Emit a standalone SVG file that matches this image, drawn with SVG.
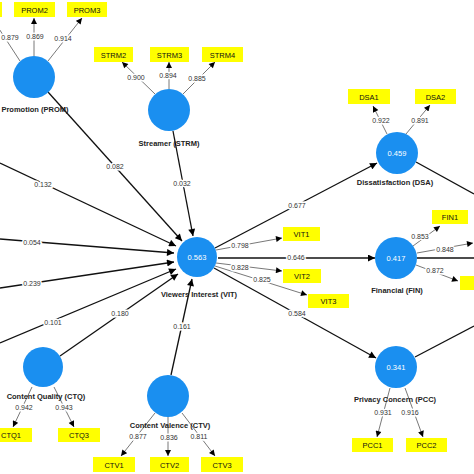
<svg xmlns="http://www.w3.org/2000/svg" width="474" height="474" viewBox="0 0 474 474">
<defs>
<style>
.lv{fill:#1a8ff0}
.ind{fill:#ffff00}
.it{font-family:"Liberation Sans",Arial,sans-serif;font-size:7.5px;fill:#111;text-anchor:middle}
.nm{font-family:"Liberation Sans",Arial,sans-serif;font-size:7.5px;font-weight:bold;fill:#222;text-anchor:middle}
.vl{font-family:"Liberation Sans",Arial,sans-serif;font-size:7.5px;fill:#fff;text-anchor:middle}
.lb{font-family:"Liberation Sans",Arial,sans-serif;font-size:7px;fill:#333;text-anchor:middle;paint-order:stroke;stroke:#fff;stroke-width:3px}
.pl{stroke:#111;stroke-width:1.3;fill:none}
.ld{stroke:#555;stroke-width:0.8;fill:none}
</style>
<marker id="ah" viewBox="0 0 10 10" refX="10" refY="5" markerWidth="8" markerHeight="7" markerUnits="userSpaceOnUse" orient="auto"><path d="M0,0 L10,5 L0,10 z" fill="#000"/></marker>
<marker id="as" viewBox="0 0 10 10" refX="10" refY="5" markerWidth="7" markerHeight="6" markerUnits="userSpaceOnUse" orient="auto"><path d="M0,0 L10,5 L0,10 z" fill="#000"/></marker>
</defs>
<rect width="474" height="474" fill="#fff"/>

<g id="connectors">
<line class="pl" x1="48" y1="92" x2="182" y2="241" marker-end="url(#ah)"/>
<line class="pl" x1="173" y1="131" x2="193" y2="236" marker-end="url(#ah)"/>
<line class="pl" x1="0" y1="163" x2="176" y2="246" marker-end="url(#ah)"/>
<line class="pl" x1="0" y1="239" x2="174" y2="253" marker-end="url(#ah)"/>
<line class="pl" x1="0" y1="288" x2="174" y2="262" marker-end="url(#ah)"/>
<line class="pl" x1="0" y1="343" x2="176" y2="269" marker-end="url(#ah)"/>
<line class="pl" x1="60" y1="356" x2="178" y2="274" marker-end="url(#ah)"/>
<line class="pl" x1="171" y1="375" x2="192" y2="279" marker-end="url(#ah)"/>
<line class="pl" x1="215" y1="248" x2="377" y2="163" marker-end="url(#ah)"/>
<line class="pl" x1="218" y1="258" x2="375" y2="258" marker-end="url(#ah)"/>
<line class="pl" x1="214" y1="268" x2="376" y2="358" marker-end="url(#ah)"/>
<line class="pl" x1="416" y1="162" x2="474" y2="194"/>
<line class="pl" x1="417" y1="258" x2="474" y2="258"/>
<line class="pl" x1="415" y1="357" x2="474" y2="326"/>
<line class="ld" x1="20" y1="61" x2="-8" y2="18" marker-end="url(#as)"/>
<line class="ld" x1="34" y1="56" x2="34" y2="18" marker-end="url(#as)"/>
<line class="ld" x1="48" y1="61" x2="82" y2="18" marker-end="url(#as)"/>
<line class="ld" x1="155" y1="94" x2="122" y2="62" marker-end="url(#as)"/>
<line class="ld" x1="169" y1="89" x2="169" y2="62" marker-end="url(#as)"/>
<line class="ld" x1="183" y1="94" x2="215" y2="62" marker-end="url(#as)"/>
<line class="ld" x1="387" y1="134" x2="373" y2="106" marker-end="url(#as)"/>
<line class="ld" x1="406" y1="134" x2="430" y2="105" marker-end="url(#as)"/>
<line class="ld" x1="216" y1="250" x2="282" y2="238" marker-end="url(#as)"/>
<line class="ld" x1="216" y1="263" x2="282" y2="271" marker-end="url(#as)"/>
<line class="ld" x1="215" y1="266" x2="307" y2="295" marker-end="url(#as)"/>
<line class="ld" x1="413" y1="246" x2="440" y2="226" marker-end="url(#as)"/>
<line class="ld" x1="417" y1="253" x2="473" y2="243" marker-end="url(#as)"/>
<line class="ld" x1="416" y1="265" x2="458" y2="281" marker-end="url(#as)"/>
<line class="ld" x1="390" y1="388" x2="377" y2="437" marker-end="url(#as)"/>
<line class="ld" x1="405" y1="388" x2="423" y2="437" marker-end="url(#as)"/>
<line class="ld" x1="32" y1="387" x2="13" y2="427" marker-end="url(#as)"/>
<line class="ld" x1="54" y1="387" x2="74" y2="427" marker-end="url(#as)"/>
<line class="ld" x1="155" y1="413" x2="121" y2="456" marker-end="url(#as)"/>
<line class="ld" x1="168" y1="417" x2="168" y2="456" marker-end="url(#as)"/>
<line class="ld" x1="182" y1="413" x2="215" y2="456" marker-end="url(#as)"/>
<text class="lb" x="115" y="169">0.082</text>
<text class="lb" x="182" y="186">0.032</text>
<text class="lb" x="43" y="187">0.132</text>
<text class="lb" x="32" y="245">0.054</text>
<text class="lb" x="32" y="286">0.239</text>
<text class="lb" x="53" y="325">0.101</text>
<text class="lb" x="120" y="316">0.180</text>
<text class="lb" x="182" y="329">0.161</text>
<text class="lb" x="297" y="208">0.677</text>
<text class="lb" x="296" y="260">0.646</text>
<text class="lb" x="297" y="316">0.584</text>
<text class="lb" x="10" y="40">0.879</text>
<text class="lb" x="35" y="39">0.869</text>
<text class="lb" x="63" y="41">0.914</text>
<text class="lb" x="136" y="80">0.900</text>
<text class="lb" x="168" y="78">0.894</text>
<text class="lb" x="197" y="81">0.885</text>
<text class="lb" x="381" y="123">0.922</text>
<text class="lb" x="420" y="123">0.891</text>
<text class="lb" x="240" y="248">0.798</text>
<text class="lb" x="240" y="270">0.828</text>
<text class="lb" x="262" y="282">0.825</text>
<text class="lb" x="420" y="239">0.853</text>
<text class="lb" x="445" y="252">0.848</text>
<text class="lb" x="435" y="273">0.872</text>
<text class="lb" x="383" y="415">0.931</text>
<text class="lb" x="410" y="415">0.916</text>
<text class="lb" x="24" y="410">0.942</text>
<text class="lb" x="64" y="410">0.943</text>
<text class="lb" x="138" y="439">0.877</text>
<text class="lb" x="169" y="440">0.836</text>
<text class="lb" x="199" y="439">0.811</text>
</g>

<g id="PROM"><circle class="lv" cx="34" cy="77" r="21"/><text class="nm" x="35" y="112">Promotion (PROM)</text></g>
<g id="PROM1"><rect class="ind" x="-38" y="2" width="40" height="15"/></g>
<g id="PROM2"><rect class="ind" x="14" y="2" width="41" height="15"/><text class="it" x="34.5" y="12.5">PROM2</text></g>
<g id="PROM3"><rect class="ind" x="67" y="2" width="40" height="15"/><text class="it" x="87" y="12.5">PROM3</text></g>

<g id="STRM"><circle class="lv" cx="169" cy="110" r="21"/><text class="nm" x="169" y="146">Streamer (STRM)</text></g>
<g id="STRM2"><rect class="ind" x="94" y="47" width="39" height="15"/><text class="it" x="113.5" y="57.5">STRM2</text></g>
<g id="STRM3"><rect class="ind" x="150" y="47" width="39" height="15"/><text class="it" x="169.5" y="57.5">STRM3</text></g>
<g id="STRM4"><rect class="ind" x="202" y="47" width="41" height="15"/><text class="it" x="222.5" y="57.5">STRM4</text></g>

<g id="VIT"><circle class="lv" cx="197" cy="257" r="20"/><text class="vl" x="197" y="260">0.563</text><text class="nm" x="199" y="297">Viewers Interest (VIT)</text></g>
<g id="VIT1"><rect class="ind" x="283" y="227" width="37" height="14"/><text class="it" x="301.5" y="237">VIT1</text></g>
<g id="VIT2"><rect class="ind" x="283" y="269" width="38" height="14"/><text class="it" x="302" y="279">VIT2</text></g>
<g id="VIT3"><rect class="ind" x="308" y="294" width="41" height="14"/><text class="it" x="328.5" y="304">VIT3</text></g>

<g id="DSA"><circle class="lv" cx="397" cy="153" r="21"/><text class="vl" x="397" y="156">0.459</text><text class="nm" x="395" y="185">Dissatisfaction (DSA)</text></g>
<g id="DSA1"><rect class="ind" x="348" y="89" width="42" height="15"/><text class="it" x="369" y="99.5">DSA1</text></g>
<g id="DSA2"><rect class="ind" x="415" y="89" width="41" height="15"/><text class="it" x="435.5" y="99.5">DSA2</text></g>

<g id="FIN"><circle class="lv" cx="396" cy="258" r="21"/><text class="vl" x="396" y="261">0.417</text><text class="nm" x="397" y="293">Financial (FIN)</text></g>
<g id="FIN1"><rect class="ind" x="432" y="210" width="36" height="14"/><text class="it" x="450" y="220">FIN1</text></g>
<g id="FIN3"><rect class="ind" x="460" y="276" width="40" height="14"/></g>

<g id="PCC"><circle class="lv" cx="396" cy="367" r="21"/><text class="vl" x="396" y="370">0.341</text><text class="nm" x="395" y="402">Privacy Concern (PCC)</text></g>
<g id="PCC1"><rect class="ind" x="352" y="438" width="41" height="14"/><text class="it" x="372.5" y="448">PCC1</text></g>
<g id="PCC2"><rect class="ind" x="406" y="438" width="41" height="14"/><text class="it" x="426.5" y="448">PCC2</text></g>

<g id="CTQ"><circle class="lv" cx="43" cy="367" r="20"/><text class="nm" x="46" y="399">Content Quality (CTQ)</text></g>
<g id="CTQ1"><rect class="ind" x="-10" y="428" width="42" height="14"/><text class="it" x="11" y="438">CTQ1</text></g>
<g id="CTQ3"><rect class="ind" x="58" y="428" width="42" height="14"/><text class="it" x="79" y="438">CTQ3</text></g>

<g id="CTV"><circle class="lv" cx="168" cy="396" r="21"/><text class="nm" x="170" y="428">Content Valence (CTV)</text></g>
<g id="CTV1"><rect class="ind" x="93" y="457" width="42" height="15"/><text class="it" x="114" y="467.5">CTV1</text></g>
<g id="CTV2"><rect class="ind" x="150" y="457" width="39" height="15"/><text class="it" x="169.5" y="467.5">CTV2</text></g>
<g id="CTV3"><rect class="ind" x="201" y="457" width="42" height="15"/><text class="it" x="222" y="467.5">CTV3</text></g>
</svg>
